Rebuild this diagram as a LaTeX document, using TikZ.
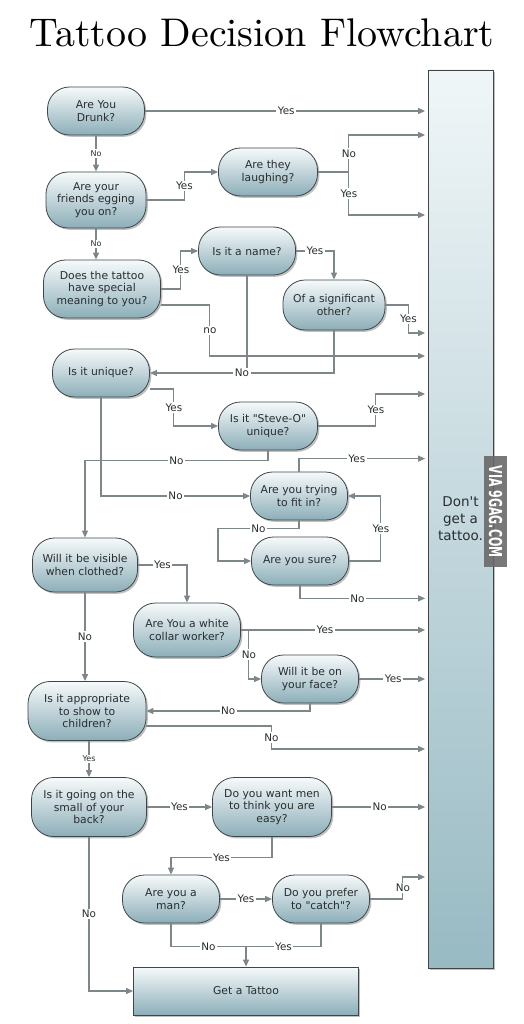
\documentclass[tikz,border=0pt]{standalone}
\usepackage{fontspec}
\usepackage{graphicx}
\newfontfamily\chartfont{DejaVu Sans}
\newfontfamily\titlefont{lmroman10-regular.otf}
\usetikzlibrary{arrows.meta,shadows}
\definecolor{linegray}{RGB}{125,135,138}
\definecolor{edgegray}{RGB}{62,70,72}
\definecolor{inkgray}{RGB}{40,46,48}
\definecolor{boxtop}{RGB}{246,250,251}
\definecolor{boxbottom}{RGB}{140,174,184}
\definecolor{bartop}{RGB}{240,246,248}
\definecolor{barbottom}{RGB}{152,186,195}
\definecolor{markgray}{RGB}{105,105,105}

\begin{document}
\begin{tikzpicture}[x=1pt,y=-1pt,
  question/.style={draw=edgegray, line width=0.8pt, rounded corners=22pt,
    top color=boxtop, bottom color=boxbottom,
    drop shadow={shadow xshift=1.8pt, shadow yshift=-1.8pt, opacity=0.5},
    align=center, text=inkgray, font=\chartfont\fontsize{10.8}{12.5}\selectfont,
    minimum width=97pt, minimum height=48pt, inner sep=2pt},
  answer/.style={question, sharp corners},
  flow/.style={draw=linegray, line width=1.1pt, -{Triangle[length=7pt,width=6pt]}},
  exit/.style={flow, shorten >=2.5pt},
  link/.style={draw=linegray, line width=1.1pt},
  lbl/.style={fill=white, inner sep=1.5pt, text=inkgray, font=\chartfont\fontsize{10.4}{12}\selectfont},
  tiny/.style={lbl, font=\chartfont\fontsize{8}{9}\selectfont}]
\useasboundingbox (0,0) rectangle (524,1024);

\node[anchor=base] (title) at (262,47) {\titlefont\fontsize{40}{48}\selectfont Tattoo Decision Flowchart};

\node[answer, minimum width=65pt, minimum height=898pt, top color=bartop, bottom color=barbottom,
  font=\chartfont\fontsize{13.5}{17}\selectfont] (dont) at (460.5,519) {Don't\\get a\\tattoo.};
\node[fill=markgray, fill opacity=0.9, text opacity=1, text=white, rotate=-90, minimum width=111pt,
  minimum height=23pt, inner sep=0pt, font=\chartfont\bfseries\fontsize{17.8}{18}\selectfont]
  (mark) at (495.5,511.5) {\scalebox{0.62}[1]{VIA 9GAG.COM}};

\node[question] (drunk) at (96,111) {Are You\\Drunk?};
\node[question, minimum width=100pt, minimum height=56pt] (friends) at (96,200) {Are your\\friends egging\\you on?};
\node[question, minimum width=99pt] (laugh) at (268,172) {Are they\\laughing?};
\node[question, minimum width=117pt, minimum height=58pt] (meaning) at (102,289) {Does the tattoo\\have special\\meaning to you?};
\node[question] (name) at (247,251) {Is it a name?};
\node[question, minimum width=102pt, minimum height=50pt] (sig) at (334,305) {Of a significant\\other?};
\node[question] (unique) at (101,373) {Is it unique?};
\node[question, minimum width=99pt] (steve) at (268,426) {Is it "Steve-O"\\unique?};
\node[question] (fit) at (299,496) {Are you trying\\to fit in?};
\node[question] (sure) at (300,561) {Are you sure?};
\node[question, minimum width=105pt, minimum height=54pt] (visible) at (85,565) {Will it be visible\\when clothed?};
\node[question, minimum width=107pt, minimum height=54pt] (collar) at (187,630) {Are You a white\\collar worker?};
\node[question] (face) at (310,679) {Will it be on\\your face?};
\node[question, minimum width=118pt, minimum height=59pt] (approp) at (87,711) {Is it appropriate\\to show to\\children?};
\node[question, minimum width=115pt, minimum height=59pt] (small) at (89,807) {Is it going on the\\small of your\\back?};
\node[question, minimum width=119pt, minimum height=59pt] (easy) at (272,807) {Do you want men\\to think you are\\easy?};
\node[question] (man) at (171,899) {Are you a\\man?};
\node[question] (catch) at (321,899) {Do you prefer\\to "catch"?};
\node[answer, minimum width=225pt, minimum height=48pt] (tattoo) at (246,991) {Get a Tattoo};

\draw[flow] (drunk.south) -- node[tiny]{No} (drunk.south |- friends.north);
\draw[exit] (drunk.east) -- node[lbl]{Yes} (drunk.east -| dont.west);
\draw[flow] (friends.east) -- ++(38,0) |- node[lbl,pos=.25]{Yes} (laugh.west);
\draw[exit] (laugh.east) -- ++(31,0) -- node[lbl]{No} ++(0,-37) coordinate (lgA) -- (lgA -| dont.west);
\draw[exit] (laugh.east) -- ++(31,0) -- node[lbl]{Yes} ++(0,43) coordinate (lgB) -- (lgB -| dont.west);

\draw[flow] (friends.south) -- node[tiny]{No} (friends.south |- meaning.north);
\draw[flow] (meaning.east) -- ++(20,0) |- node[lbl,pos=.25]{Yes} (name.west);
\draw[exit] ([yshift=-16pt]meaning.east) -- ++(49,0) -- node[lbl]{no} ++(0,51) coordinate (mgA) -- (mgA -| dont.west);
\draw[flow] (name.east) -| node[lbl,pos=.25]{Yes} (sig.north);
\draw[exit] (sig.east) -- ++(23,0) -- node[lbl]{Yes} ++(0,28) coordinate (sgA) -- (sgA -| dont.west);
\draw[link] (name.south) -- (name.south |- unique.east);
\draw[flow] (sig.south) |- node[lbl,pos=.75]{No} (unique.east);

\draw[flow] ([yshift=-16pt]unique.east) -- ++(24,0) |- node[lbl,pos=.25]{Yes} (steve.west);
\draw[exit] (steve.east) -- ++(58,0) -- node[lbl]{Yes} ++(0,-32) coordinate (svA) -- (svA -| dont.west);
\draw[flow] (steve.south) -- ++(0,10) -| node[lbl,pos=.25]{No} (visible.north);
\draw[flow] (unique.south) |- node[lbl,pos=.75]{No} (fit.west);
\draw[exit] (fit.north) -- ++(0,-13) coordinate (ftA) -- node[lbl,pos=.45]{Yes} (ftA -| dont.west);
\draw[flow] (fit.south) -- ++(0,8) -- node[lbl]{No} ++(-81,0) |- (sure.west);
\draw[flow] (sure.east) -- ++(32,0) |- node[lbl,pos=.25]{Yes} (fit.east);
\draw[exit] (sure.south) -- ++(0,13) coordinate (srA) -- node[lbl,pos=.45]{No} (srA -| dont.west);

\draw[flow] (visible.east) -| node[lbl,pos=.25]{Yes} (collar.north);
\draw[flow] (visible.south) -- node[lbl]{No} (visible.south |- approp.north);
\draw[exit] (collar.east) -- node[lbl,pos=.45]{Yes} (collar.east -| dont.west);
\draw[flow] ([xshift=8pt]collar.east) |- node[lbl,pos=.25]{No} (face.west);
\draw[exit] (face.east) -- node[lbl]{Yes} (face.east -| dont.west);
\draw[flow] (face.south) |- node[lbl,pos=.75]{No} (approp.east);
\draw[exit] ([yshift=-15pt]approp.east) -- ++(125,0) -- node[lbl]{No} ++(0,23) coordinate (apA) -- (apA -| dont.west);
\draw[flow] (small.north |- approp.south) -- node[tiny]{Yes} (small.north);

\draw[flow] (small.east) -- node[lbl]{Yes} (easy.west);
\draw[exit] (easy.east) -- node[lbl]{No} (easy.east -| dont.west);
\draw[flow] (easy.south) -- ++(0,21) -| node[lbl,pos=.25]{Yes} (man.north);
\draw[flow] (man.east) -- node[lbl]{Yes} (catch.west);
\draw[exit] (catch.east) -- ++(33,0) -- node[lbl]{No} ++(0,-22) coordinate (ctA) -- (ctA -| dont.west);
\draw[link] (catch.south) -- ++(0,23.5) coordinate (ctB) -- node[lbl]{Yes} (tattoo.north |- ctB);
\draw[flow] (man.south) -- ++(0,23.5) -| node[lbl,pos=.25]{No} (tattoo.north);
\draw[flow] (small.south) |- node[lbl,pos=.25]{No} (tattoo.west);
\end{tikzpicture}
\end{document}
